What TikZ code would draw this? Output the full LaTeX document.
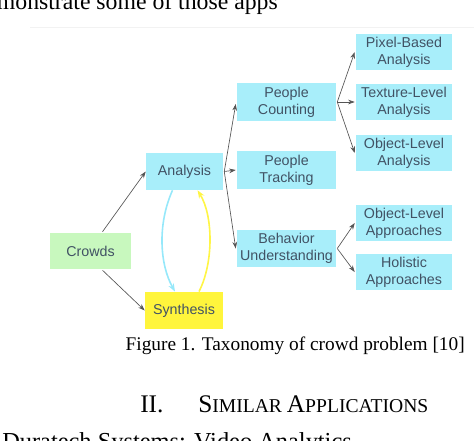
\documentclass[tikz,border=0pt]{standalone}
\usepackage{fontspec}
\setmainfont{Liberation Serif}
\newfontfamily\boxfont{Liberation Sans}
\usetikzlibrary{arrows.meta,calc}
\definecolor{boxcyan}{RGB}{168,238,250}
\definecolor{boxgreen}{RGB}{200,248,190}
\definecolor{boxyellow}{RGB}{255,245,60}
\definecolor{boxtext}{RGB}{65,82,100}
\definecolor{arrgray}{RGB}{85,85,85}
\definecolor{curvecyan}{RGB}{150,232,250}
\definecolor{curveyellow}{RGB}{255,245,70}
\tikzset{
  tbox/.style={fill=#1, draw=none, inner sep=0pt, align=center, text=boxtext,
    font=\boxfont\fontsize{10.7}{12.8}\selectfont},
  smallcol/.style={minimum width=74.25pt, minimum height=28pt},
  rightcol/.style={minimum width=72pt, minimum height=27.5pt},
  arr/.style={draw=arrgray, line width=0.5pt, -{Stealth[length=5pt,width=3.5pt]}},
  loopc/.style={draw=curvecyan, line width=1.2pt, -{Stealth[length=6pt,width=4.5pt]}},
  loopy/.style={draw=curveyellow, line width=1.2pt, -{Stealth[length=6pt,width=4.5pt]}},
  bodytext/.style={inner sep=0pt, text=black}
}
\begin{document}
\begin{tikzpicture}[x=0.75pt,y=-0.75pt]
\useasboundingbox (0,0) rectangle (474,440);
\clip (0,0) rectangle (474,440);
% faint figure frame line
\draw[gray!10, line width=0.5pt] (30,27) -- (474,27);
% surrounding text
\node[bodytext, anchor=base east, font=\fontsize{17.8}{21}\selectfont] (toptext) at (278,9.5) {demonstrate some of those apps};
\node[bodytext, anchor=base east, font=\fontsize{14.5}{17}\selectfont] (caption) at (465,350) {Figure 1. Taxonomy of crowd problem [10]};
\node[bodytext, anchor=base west, font=\fontsize{19}{22}\selectfont] (secnum) at (140,412) {II.};
\node[bodytext, anchor=base west] (sectitle) at (198,412) {\fontsize{19}{22}\selectfont S\fontsize{14.7}{17}\selectfont IMILAR \fontsize{19}{22}\selectfont A\fontsize{14.7}{17}\selectfont PPLICATIONS};
\node[bodytext, anchor=base west, font=\fontsize{18.3}{21}\selectfont] (bottext) at (2,449.5) {Duratech Systems: Video Analytics};
% boxes
\node[tbox=boxgreen, minimum width=60.75pt, minimum height=27pt] (cr) at (90.5,251) {Crowds};
\node[tbox=boxcyan, minimum width=57.75pt, minimum height=27.75pt] (an) at (184.5,171.5) {Analysis};
\node[tbox=boxyellow, minimum width=58.5pt, minimum height=28pt] (sy) at (184,310.5) {Synthesis};
\node[tbox=boxcyan, smallcol] (pc) at (286.5,102) {People\\Counting};
\node[tbox=boxcyan, smallcol] (pt) at (286.5,170) {People\\Tracking};
\node[tbox=boxcyan, smallcol] (bu) at (286.5,248.5) {Behavior\\Understanding};
\node[tbox=boxcyan, rightcol] (pb) at (404,52) {Pixel-Based\\Analysis};
\node[tbox=boxcyan, rightcol] (tl) at (404,102) {Texture-Level\\Analysis};
\node[tbox=boxcyan, rightcol] (oa) at (404,153) {Object-Level\\Analysis};
\node[tbox=boxcyan, rightcol] (op) at (404,223) {Object-Level\\Approaches};
\node[tbox=boxcyan, rightcol] (ho) at (404,272) {Holistic\\Approaches};
% connectors
\draw[arr] ($(cr.north)+(12,-1)$) -- (an.west);
\draw[arr] ($(cr.south)+(12,1)$) -- (sy.west);
\draw[arr] ($(an.east)+(1,0)$) -- ($(pc.west)+(-1,2)$);
\draw[arr] ($(an.east)+(1,0)$) -- ($(pt.west)+(-1,0)$);
\draw[arr] ($(an.east)+(1,0)$) -- ($(bu.west)+(-1,0)$);
\draw[arr] ($(pc.east)+(1,0)$) -- ($(pb.west)+(-1,0)$);
\draw[arr] ($(pc.east)+(1,0)$) -- ($(tl.west)+(-1,0)$);
\draw[arr] ($(pc.east)+(1,0)$) -- ($(oa.west)+(-1,0)$);
\draw[arr] ($(bu.east)+(1,0)$) -- ($(op.west)+(-1,0)$);
\draw[arr] ($(bu.east)+(1,0)$) -- ($(ho.west)+(-1,0)$);
% loop curves
\draw[loopc] ($(an.south)+(-12,0)$) .. controls (157,225) and (160,265) .. ($(sy.north)+(-9,0)$);
\draw[loopy] ($(sy.north)+(15,0)$) .. controls (214,262) and (213,215) .. ($(an.south)+(13,0)$);
\end{tikzpicture}
\end{document}
